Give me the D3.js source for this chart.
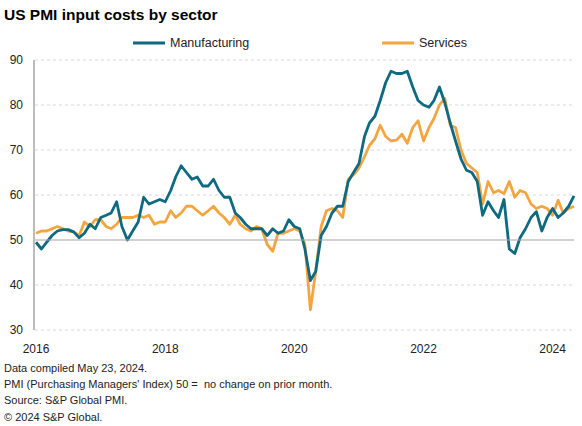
<!DOCTYPE html>
<html><head><meta charset="utf-8">
<script src="https://cdn.jsdelivr.net/npm/d3@7"></script>
<style>body{margin:0;background:#fff;font-family:Arial,"Liberation Sans",sans-serif;} text{white-space:pre;}</style>
</head><body>
<svg id="chart" width="582" height="426"></svg>
<script>
"use strict";

// monthly, Jan 2016 .. May 2024
const manufacturing = [
    49.5, 48, 49.5, 51, 52, 52.3, 52.3, 51.8, 50.5, 51.5, 53.5, 52.5,
    55, 55.5, 56, 58.5, 53, 50, 52, 54, 59.5, 58, 58.5, 59,
    58.5, 61, 64, 66.5, 65, 63.5, 64, 62, 62, 63.5, 61, 59.5,
    59.5, 56, 55, 53.5, 52.5, 52.5, 52.5, 51, 52.5, 51.5, 52, 54.5,
    53, 52.5, 48, 41, 43, 51, 53, 56, 57.5, 57.5, 63, 65,
    67, 73, 76, 77.5, 81, 85, 87.5, 87, 87, 87.5, 84, 81,
    80, 79.5, 81, 84, 80.5, 76, 72, 68, 65.5, 65, 63, 55.5,
    58.5, 56.5, 55, 59, 48, 47, 50.5, 52.5, 55, 56.3, 52, 55,
    57, 55, 56, 57.5, 59.8
];
const services = [
    51.5, 52, 52, 52.5, 53, 52.5, 52, 51.8, 51, 54, 53, 54.5,
    54.5, 53, 52.5, 53.5, 55, 55, 55, 55.5, 55, 55.5, 53.5, 54,
    54, 56.5, 55, 56, 57.5, 57.5, 56.5, 55.5, 56.5, 57.5, 56, 55,
    53.5, 55.5, 53.5, 52.5, 52, 53, 52.5, 49, 47.5, 51.5, 51.5, 52,
    52.5, 52, 49, 34.5, 43, 53, 56.5, 57, 56.5, 55, 63.5, 64.5,
    66, 68.5, 71, 72.5, 75.5, 73, 72, 72.2, 73.5, 71.5, 75, 76.5,
    72, 75, 77, 80, 81.5, 75.5, 75, 70, 67, 66, 65, 58,
    63, 60.5, 61, 60.3, 63, 59.5, 61, 60.5, 58, 57, 57.5, 57,
    55.5, 58.8, 56, 57, 57.5
];
const seriesNames = ["Manufacturing", "Services"];
const yTicks = [30, 40, 50, 60, 70, 80, 90];
const xTickYears = [2016, 2018, 2020, 2022, 2024];
const footnotes = [
    "Data compiled May 23, 2024.",
    "PMI (Purchasing Managers' Index) 50 =  no change on prior month.",
    "Source: S&P Global PMI.",
    "\u00a9 2024 S&P Global."
];

const colors = {Manufacturing: "#0d6a80", Services: "#f4a540"};
const svg = d3.select("#chart");
const plotL = 35, plotR = 574, plotT = 60, plotB = 330;

const dates = manufacturing.map((d, i) => new Date(2016, i, 1));
const x = d3.scaleTime().domain([new Date(2016, 0, 1), new Date(2024, 4, 1)]).range([plotL + 1, plotR]);
const y = d3.scaleLinear().domain([30, 90]).range([plotB, plotT]);

svg.append("text").attr("x", 4).attr("y", 20)
    .attr("font-size", 15.5).attr("font-weight", "bold").attr("fill", "#000")
    .text("US PMI input costs by sector");

// grid
svg.append("g").selectAll("line").data(yTicks.filter(t => t !== 50)).join("line")
    .attr("x1", plotL).attr("x2", plotR).attr("y1", d => y(d)).attr("y2", d => y(d))
    .attr("stroke", "#d9d9d9").attr("stroke-dasharray", "3,3");

svg.append("g").selectAll("text").data(yTicks).join("text")
    .attr("x", 23).attr("y", d => y(d) + 4).attr("text-anchor", "end")
    .attr("font-size", 12).attr("fill", "#222").text(d => d);

svg.append("g").selectAll("text").data(xTickYears).join("text")
    .attr("x", d => x(new Date(d, 0, 1))).attr("y", 353).attr("text-anchor", "middle")
    .attr("font-size", 12).attr("fill", "#222").text(d => d);

svg.append("line").attr("x1", plotL - 1).attr("x2", plotL - 1).attr("y1", plotT).attr("y2", plotB)
    .attr("stroke", "#a6a6a6").attr("stroke-width", 1.5);

const line = d3.line().x((d, i) => x(dates[i])).y(d => y(d));
[["Services", services], ["Manufacturing", manufacturing]].forEach(([name, vals]) => {
    svg.append("path").datum(vals).attr("d", line).attr("fill", "none")
        .attr("stroke", colors[name]).attr("stroke-width", 2.8).attr("stroke-linejoin", "round");
});

svg.append("line").attr("x1", plotL).attr("x2", plotR).attr("y1", y(50)).attr("y2", y(50))
    .attr("stroke", "#a6a6a6").attr("stroke-width", 1.2);

// legend
const legendX = [133, 382];
seriesNames.forEach((name, i) => {
    svg.append("line").attr("x1", legendX[i]).attr("x2", legendX[i] + 32).attr("y1", 43).attr("y2", 43)
        .attr("stroke", colors[name]).attr("stroke-width", 3);
    svg.append("text").attr("x", legendX[i] + 37).attr("y", 47)
        .attr("font-size", 12.5).attr("fill", "#222").text(name);
});

svg.append("g").selectAll("text").data(footnotes).join("text")
    .attr("x", 4).attr("y", (d, i) => 372 + i * 16.2)
    .attr("font-size", 11).attr("fill", "#222").text(d => d);
</script>
</body></html>
